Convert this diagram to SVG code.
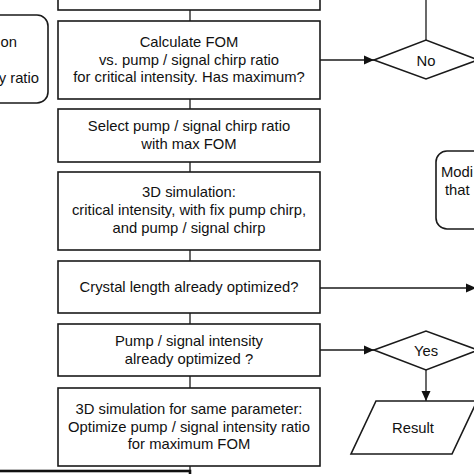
<svg xmlns="http://www.w3.org/2000/svg" width="474" height="474" viewBox="0 0 474 474">
<defs>
<style>
.box{fill:#fff;stroke:#1a1a1a;stroke-width:1.6}
.ln{fill:none;stroke:#1a1a1a;stroke-width:1.3}
text{font-family:"Liberation Sans",Arial,sans-serif;font-size:14.8px;fill:#111;text-anchor:middle}
</style>
<marker id="ah" viewBox="0 0 10 10" refX="10" refY="5" markerWidth="10" markerHeight="10" markerUnits="userSpaceOnUse" orient="auto">
<path d="M0,0.5 L10,5 L0,9.5 Z" fill="#111"/>
</marker>
</defs>
<rect width="474" height="474" fill="#fff"/>
<g id="connectors">
<line class="ln" x1="190" y1="10" x2="190" y2="21"/>
<line class="ln" x1="190" y1="99" x2="190" y2="109"/>
<line class="ln" x1="190" y1="162" x2="190" y2="172"/>
<line class="ln" x1="190" y1="250" x2="190" y2="261"/>
<line class="ln" x1="190" y1="313" x2="190" y2="324"/>
<line class="ln" x1="190" y1="376" x2="190" y2="388"/>
<line class="ln" x1="190" y1="466" x2="190" y2="471"/>
<line class="ln" x1="426" y1="0" x2="426" y2="40"/>
<line class="ln" x1="320" y1="60" x2="374" y2="60" marker-end="url(#ah)"/>
<line class="ln" x1="320" y1="288" x2="476" y2="288" marker-end="url(#ah)"/>
<line class="ln" x1="320" y1="350" x2="374" y2="350" marker-end="url(#ah)"/>
<line class="ln" x1="426" y1="370" x2="426" y2="401" marker-end="url(#ah)"/>
</g>
<g id="top-box"><rect class="box" x="58" y="-10" width="262" height="20"/></g>
<g id="left-box">
<rect class="box" x="-20" y="15" width="68" height="88" rx="11"/>
<text x="17" y="47" style="text-anchor:end">on</text>
<text x="39" y="82.5" style="text-anchor:end">y ratio</text>
</g>
<g id="calc-fom">
<rect class="box" x="58" y="21" width="262" height="78"/>
<text x="189" y="47">Calculate FOM</text>
<text x="189" y="64.5">vs. pump / signal chirp ratio</text>
<text x="189" y="82">for critical intensity. Has maximum?</text>
</g>
<g id="select-ratio">
<rect class="box" x="58" y="109" width="262" height="53"/>
<text x="189" y="131">Select pump / signal chirp ratio</text>
<text x="189" y="148.5">with max FOM</text>
</g>
<g id="sim-3d">
<rect class="box" x="58" y="172" width="262" height="78"/>
<text x="189" y="197">3D simulation:</text>
<text x="189" y="215">critical intensity, with fix pump chirp,</text>
<text x="189" y="232.5">and pump / signal chirp</text>
</g>
<g id="crystal-length">
<rect class="box" x="58" y="261" width="262" height="52"/>
<text x="189" y="292">Crystal length already optimized?</text>
</g>
<g id="intensity-optimized">
<rect class="box" x="58" y="324" width="262" height="52"/>
<text x="189" y="346">Pump / signal intensity</text>
<text x="189" y="363.5">already optimized ?</text>
</g>
<g id="sim-same">
<rect class="box" x="58" y="388" width="262" height="78"/>
<text x="189" y="414">3D simulation for same parameter:</text>
<text x="189" y="431.5">Optimize pump / signal intensity ratio</text>
<text x="189" y="449">for maximum FOM</text>
</g>
<g id="bottom-box"><rect x="-10" y="471" width="200" height="12" fill="#fff" stroke="#111" stroke-width="2.6"/></g>
<g id="no-diamond">
<polygon class="box" points="374,60 426,40 478,60 426,79"/>
<text x="426" y="65.5">No</text>
</g>
<g id="modify-box">
<rect class="box" x="436" y="151" width="60" height="78" rx="11"/>
<text x="441" y="177" style="text-anchor:start">Modi</text>
<text x="445" y="195" style="text-anchor:start">that</text>
</g>
<g id="yes-diamond">
<polygon class="box" points="374,350 426,331 478,350 426,370"/>
<text x="426" y="355.5">Yes</text>
</g>
<g id="result">
<polygon class="box" points="376,401 477,401 452,454 351,454"/>
<text x="413" y="433">Result</text>
</g>
</svg>
